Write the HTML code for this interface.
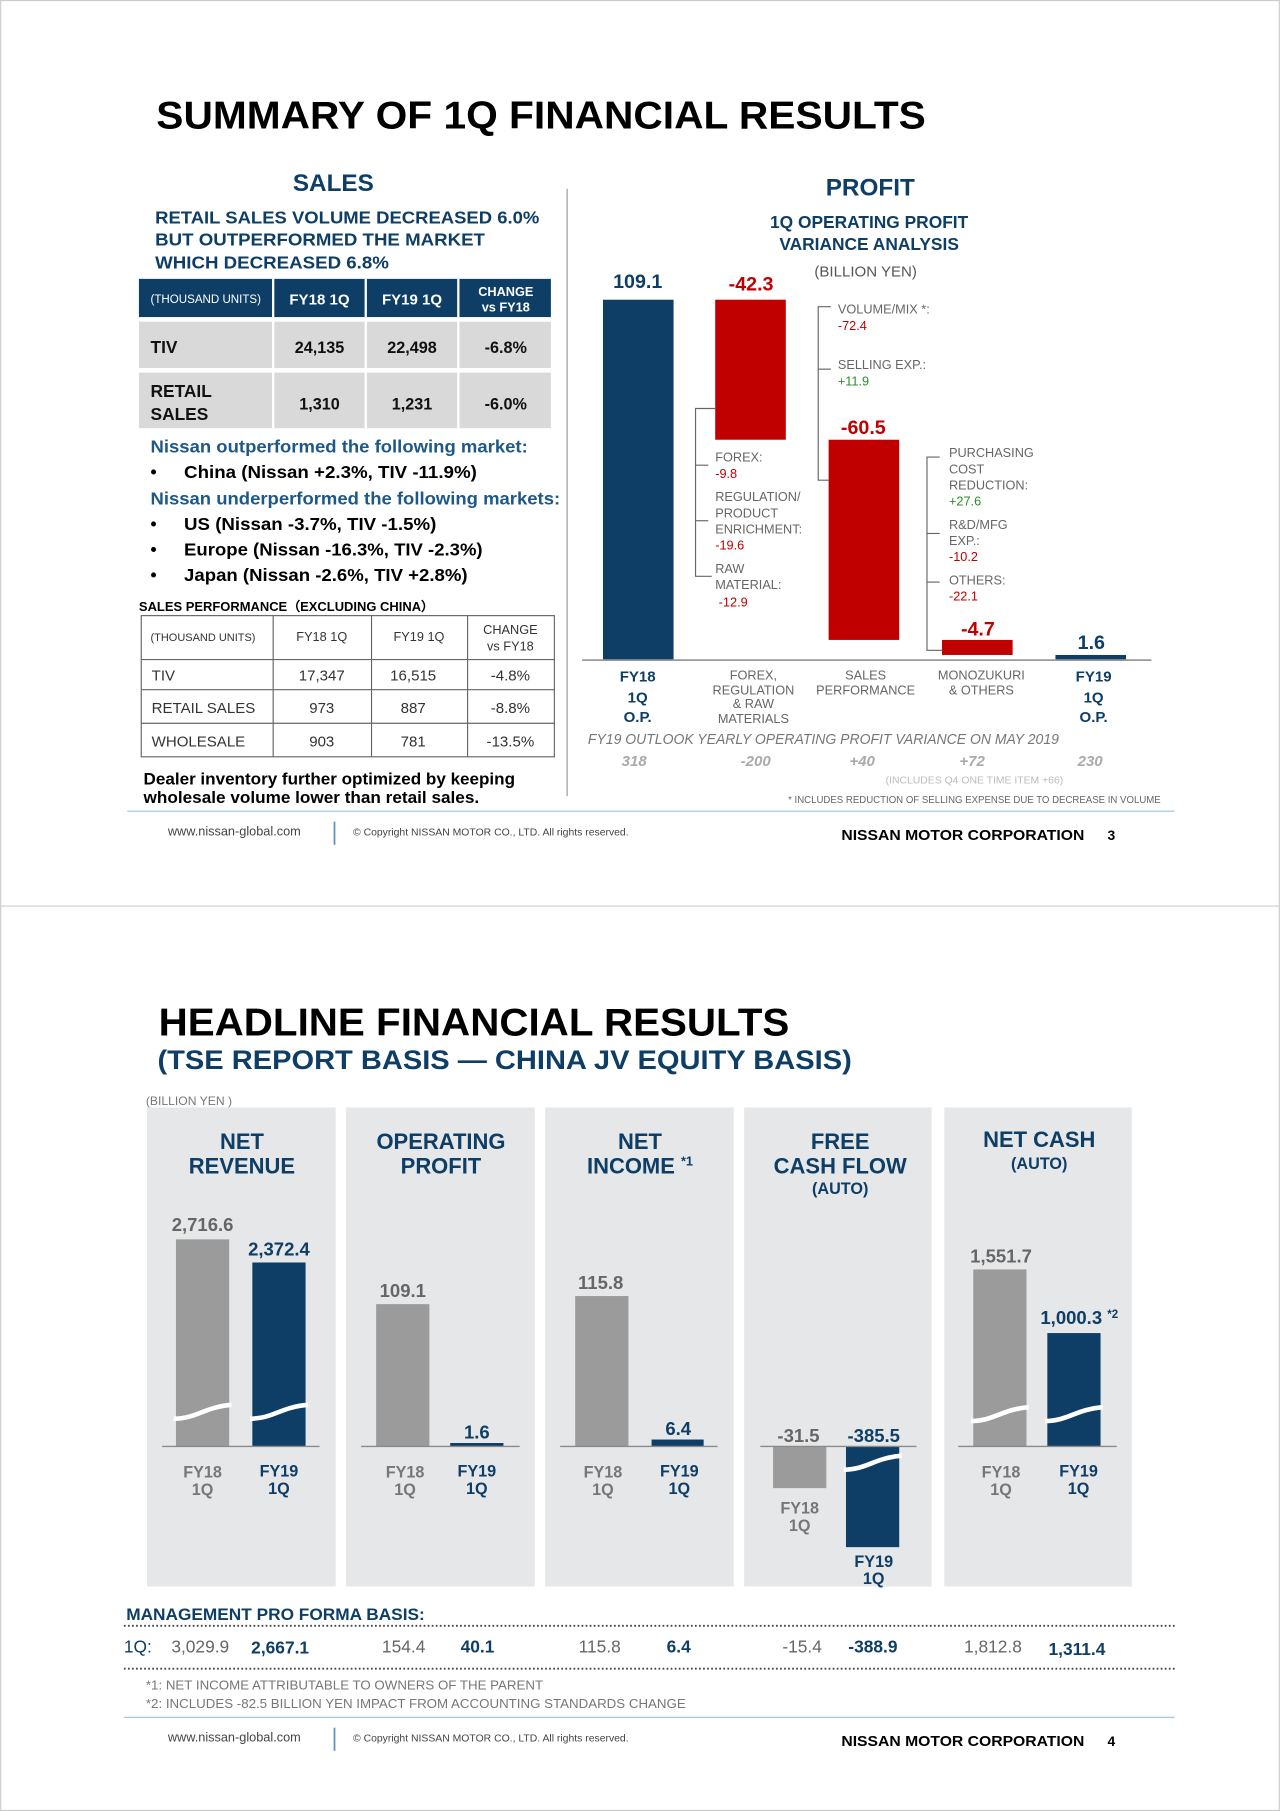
<!DOCTYPE html>
<html><head><meta charset="utf-8"><style>html,body{margin:0;padding:0;background:#fff}svg{display:block}</style></head>
<body>
<svg width="1280" height="1811" viewBox="0 0 1106 1565" xmlns="http://www.w3.org/2000/svg" font-family="Liberation Sans, sans-serif">
<rect x="0.5" y="0.5" width="1105" height="1564" fill="#fff" stroke="#ccc"/>
<line x1="0" y1="783" x2="1106" y2="783" stroke="#ccc"/>

<!-- SLIDE 1 -->
<text x="135" y="111" font-size="34" font-weight="bold" textLength="665" lengthAdjust="spacingAndGlyphs">SUMMARY OF 1Q FINANCIAL RESULTS</text>
<g fill="#0e3e66" font-weight="bold">
<text x="288" y="165" font-size="21" text-anchor="middle">SALES</text>
<text x="134" y="193" font-size="15" textLength="332" lengthAdjust="spacingAndGlyphs">RETAIL SALES VOLUME DECREASED 6.0%</text>
<text x="134" y="212" font-size="15" textLength="285" lengthAdjust="spacingAndGlyphs">BUT OUTPERFORMED THE MARKET</text>
<text x="134" y="232" font-size="15" textLength="202" lengthAdjust="spacingAndGlyphs">WHICH DECREASED 6.8%</text>
</g>
<rect x="120" y="241" width="356" height="33" fill="#0e3e66"/>
<g stroke="#fff" stroke-width="2"><line x1="236" y1="241" x2="236" y2="274"/><line x1="316" y1="241" x2="316" y2="274"/><line x1="396" y1="241" x2="396" y2="274"/></g>
<g fill="#fff" font-weight="bold">
<text x="130" y="262" font-size="10" font-weight="normal">(THOUSAND UNITS)</text>
<text x="276" y="263" font-size="13" text-anchor="middle">FY18 1Q</text>
<text x="356" y="263" font-size="13" text-anchor="middle">FY19 1Q</text>
<text x="437" y="256" font-size="11" text-anchor="middle">CHANGE</text>
<text x="437" y="269" font-size="11" text-anchor="middle">vs FY18</text>
</g>
<rect x="120" y="278" width="356" height="40" fill="#d9d9d9"/>
<rect x="120" y="322" width="356" height="48" fill="#d9d9d9"/>
<g stroke="#fff" stroke-width="2"><line x1="236" y1="276" x2="236" y2="370"/><line x1="316" y1="276" x2="316" y2="370"/><line x1="396" y1="276" x2="396" y2="370"/></g>
<g font-weight="bold" fill="#111">
<text x="130" y="305" font-size="15">TIV</text>
<text x="276" y="305" font-size="14" text-anchor="middle">24,135</text>
<text x="356" y="305" font-size="14" text-anchor="middle">22,498</text>
<text x="437" y="305" font-size="14" text-anchor="middle">-6.8%</text>
<text x="130" y="343" font-size="15">RETAIL</text>
<text x="130" y="363" font-size="15">SALES</text>
<text x="276" y="354" font-size="14" text-anchor="middle">1,310</text>
<text x="356" y="354" font-size="14" text-anchor="middle">1,231</text>
<text x="437" y="354" font-size="14" text-anchor="middle">-6.0%</text>
</g>
<g font-weight="bold" font-size="15">
<text x="130" y="391" fill="#1d5888" textLength="326" lengthAdjust="spacingAndGlyphs">Nissan outperformed the following market:</text>
<text x="130" y="413">•</text><text x="159" y="413" textLength="253" lengthAdjust="spacingAndGlyphs">China (Nissan +2.3%, TIV -11.9%)</text>
<text x="130" y="436" fill="#1d5888" textLength="354" lengthAdjust="spacingAndGlyphs">Nissan underperformed the following markets:</text>
<text x="130" y="458">•</text><text x="159" y="458" textLength="218" lengthAdjust="spacingAndGlyphs">US (Nissan -3.7%, TIV -1.5%)</text>
<text x="130" y="480">•</text><text x="159" y="480" textLength="258" lengthAdjust="spacingAndGlyphs">Europe (Nissan -16.3%, TIV -2.3%)</text>
<text x="130" y="502">•</text><text x="159" y="502" textLength="245" lengthAdjust="spacingAndGlyphs">Japan (Nissan -2.6%, TIV +2.8%)</text>
</g>
<text x="120" y="528" font-size="11" font-weight="bold" textLength="255" lengthAdjust="spacingAndGlyphs">SALES PERFORMANCE（EXCLUDING CHINA）</text>
<g stroke="#666" fill="none"><rect x="122" y="532" width="357" height="122"/>
<line x1="122" y1="570" x2="479" y2="570"/><line x1="122" y1="596" x2="479" y2="596"/><line x1="122" y1="625" x2="479" y2="625"/>
<line x1="236" y1="532" x2="236" y2="654"/><line x1="321" y1="532" x2="321" y2="654"/><line x1="404" y1="532" x2="404" y2="654"/></g>
<g font-size="13" fill="#333">
<text x="130" y="554" font-size="9.5">(THOUSAND UNITS)</text>
<text x="278" y="554" font-size="11" text-anchor="middle">FY18 1Q</text>
<text x="362" y="554" font-size="11" text-anchor="middle">FY19 1Q</text>
<text x="441" y="548" font-size="11" text-anchor="middle">CHANGE</text>
<text x="441" y="562" font-size="11" text-anchor="middle">vs FY18</text>
<text x="131" y="588">TIV</text><text x="278" y="588" text-anchor="middle">17,347</text><text x="357" y="588" text-anchor="middle">16,515</text><text x="441" y="588" text-anchor="middle">-4.8%</text>
<text x="131" y="616">RETAIL SALES</text><text x="278" y="616" text-anchor="middle">973</text><text x="357" y="616" text-anchor="middle">887</text><text x="441" y="616" text-anchor="middle">-8.8%</text>
<text x="131" y="645">WHOLESALE</text><text x="278" y="645" text-anchor="middle">903</text><text x="357" y="645" text-anchor="middle">781</text><text x="441" y="645" text-anchor="middle">-13.5%</text>
</g>
<text x="124" y="678" font-size="14" font-weight="bold" textLength="321" lengthAdjust="spacingAndGlyphs">Dealer inventory further optimized by keeping</text>
<text x="124" y="694" font-size="14" font-weight="bold" textLength="290" lengthAdjust="spacingAndGlyphs">wholesale volume lower than retail sales.</text>
<line x1="490" y1="163" x2="490" y2="688" stroke="#999"/>

<!-- profit -->
<g fill="#0e3e66" font-weight="bold" text-anchor="middle">
<text x="752" y="169" font-size="21">PROFIT</text>
<text x="751" y="197" font-size="15">1Q OPERATING PROFIT</text>
<text x="751" y="216" font-size="15">VARIANCE ANALYSIS</text>
</g>
<text x="748" y="239" font-size="13" fill="#555" text-anchor="middle">(BILLION YEN)</text>
<rect x="521" y="259" width="61" height="311" fill="#0e3e66"/>
<rect x="618" y="259" width="61" height="121" fill="#c00000"/>
<rect x="716" y="380" width="61" height="173" fill="#c00000"/>
<rect x="814" y="553" width="61" height="13" fill="#c00000"/>
<rect x="912" y="566" width="61" height="4" fill="#0e3e66"/>
<line x1="503" y1="570.5" x2="995" y2="570.5" stroke="#999" stroke-width="1.5"/>
<g font-weight="bold" font-size="17" text-anchor="middle">
<text x="551" y="249" fill="#0e3e66">109.1</text>
<text x="649" y="251" fill="#c00000">-42.3</text>
<text x="746" y="375" fill="#c00000">-60.5</text>
<text x="845" y="549" fill="#c00000">-4.7</text>
<text x="943" y="561" fill="#0e3e66">1.6</text>
</g>
<g stroke="#666" fill="none">
<path d="M618 353 H601 V498 H615"/><line x1="601" y1="402" x2="612" y2="402"/><line x1="601" y1="450" x2="612" y2="450"/>
<path d="M718 265 H707 V415 H716"/><line x1="707" y1="319" x2="718" y2="319"/>
<path d="M812 395 H801 V562 H814"/><line x1="801" y1="461" x2="812" y2="461"/><line x1="801" y1="503" x2="812" y2="503"/>
</g>
<g font-size="11" fill="#666">
<text x="618" y="399">FOREX:</text><text x="618" y="413" fill="#c00000">-9.8</text>
<text x="618" y="433">REGULATION/</text><text x="618" y="447">PRODUCT</text><text x="618" y="461">ENRICHMENT:</text><text x="618" y="475" fill="#c00000">-19.6</text>
<text x="618" y="495">RAW</text><text x="618" y="509">MATERIAL:</text><text x="621" y="524" fill="#c00000">-12.9</text>
<text x="724" y="271">VOLUME/MIX *:</text><text x="724" y="285" fill="#c00000">-72.4</text>
<text x="724" y="319">SELLING EXP.:</text><text x="724" y="333" fill="#2e8b2e">+11.9</text>
<text x="820" y="395">PURCHASING</text><text x="820" y="409">COST</text><text x="820" y="423">REDUCTION:</text><text x="820" y="437" fill="#2e8b2e">+27.6</text>
<text x="820" y="457">R&amp;D/MFG</text><text x="820" y="471">EXP.:</text><text x="820" y="485" fill="#c00000">-10.2</text>
<text x="820" y="505">OTHERS:</text><text x="820" y="519" fill="#c00000">-22.1</text>
</g>
<g font-size="13" font-weight="bold" fill="#0e3e66" text-anchor="middle">
<text x="551" y="589">FY18</text><text x="551" y="607">1Q</text><text x="551" y="624">O.P.</text>
<text x="945" y="589">FY19</text><text x="945" y="607">1Q</text><text x="945" y="624">O.P.</text>
</g>
<g font-size="11" fill="#666" text-anchor="middle">
<text x="651" y="587">FOREX,</text><text x="651" y="600">REGULATION</text><text x="651" y="612">&amp; RAW</text><text x="651" y="625">MATERIALS</text>
<text x="748" y="587">SALES</text><text x="748" y="600">PERFORMANCE</text>
<text x="848" y="587">MONOZUKURI</text><text x="848" y="600">&amp; OTHERS</text>
</g>
<text x="508" y="643" font-size="12.5" font-style="italic" fill="#777" textLength="407" lengthAdjust="spacingAndGlyphs">FY19 OUTLOOK YEARLY OPERATING PROFIT VARIANCE ON MAY 2019</text>
<g font-size="13" font-weight="bold" font-style="italic" fill="#aaa" text-anchor="middle">
<text x="548" y="662">318</text><text x="653" y="662">-200</text><text x="745" y="662">+40</text><text x="840" y="662">+72</text><text x="942" y="662">230</text>
</g>
<text x="842" y="677" font-size="9" fill="#bbb" text-anchor="middle">(INCLUDES Q4 ONE TIME ITEM +66)</text>
<text x="681" y="694" font-size="8.5" fill="#666" textLength="322" lengthAdjust="spacingAndGlyphs">* INCLUDES REDUCTION OF SELLING EXPENSE DUE TO DECREASE IN VOLUME</text>
<line x1="110" y1="701" x2="1015" y2="701" stroke="#9cc0dc"/>
<text x="145" y="722" font-size="11" fill="#444">www.nissan-global.com</text>
<line x1="289" y1="710" x2="289" y2="730" stroke="#5b8fc0" stroke-width="1.5"/>
<text x="305" y="722" font-size="9" fill="#444">© Copyright NISSAN MOTOR CO., LTD. All rights reserved.</text>
<text x="727" y="726" font-size="13" font-weight="bold" textLength="210" lengthAdjust="spacingAndGlyphs">NISSAN MOTOR CORPORATION</text>
<text x="957" y="726" font-size="12" font-weight="bold">3</text>

<!-- SLIDE 2 -->
<text x="137" y="895" font-size="34" font-weight="bold" textLength="545" lengthAdjust="spacingAndGlyphs">HEADLINE FINANCIAL RESULTS</text>
<text x="136" y="924" font-size="23" font-weight="bold" fill="#0e3e66" textLength="600" lengthAdjust="spacingAndGlyphs">(TSE REPORT BASIS — CHINA JV EQUITY BASIS)</text>
<text x="126" y="955" font-size="10.5" fill="#777">(BILLION YEN )</text>
<g fill="#e6e7e9">
<rect x="127" y="957" width="163" height="414"/><rect x="299" y="957" width="163" height="414"/><rect x="471" y="957" width="163" height="414"/><rect x="643" y="957" width="162" height="414"/><rect x="816" y="957" width="162" height="414"/>
</g>
<g fill="#0e3e66" font-weight="bold" font-size="19" text-anchor="middle">
<text x="209" y="993">NET</text><text x="209" y="1014">REVENUE</text>
<text x="381" y="993">OPERATING</text><text x="381" y="1014">PROFIT</text>
<text x="553" y="993">NET</text><text x="553" y="1014">INCOME <tspan font-size="11" dy="-7">*1</tspan></text>
<text x="726" y="993">FREE</text><text x="726" y="1014">CASH FLOW</text><text x="726" y="1032" font-size="14">(AUTO)</text>
<text x="898" y="991">NET CASH</text><text x="898" y="1010" font-size="14">(AUTO)</text>
</g>
<!-- bars -->
<g fill="#9b9b9b"><rect x="152" y="1071" width="46" height="179"/><rect x="325" y="1127" width="46" height="123"/><rect x="497" y="1120" width="46" height="130"/><rect x="668" y="1250" width="46" height="36"/><rect x="841" y="1097" width="46" height="153"/></g>
<g fill="#0e3e66"><rect x="218" y="1091" width="46" height="159"/><rect x="389" y="1247" width="46" height="3"/><rect x="563" y="1244" width="45" height="6"/><rect x="731" y="1250" width="46" height="87"/><rect x="905" y="1152" width="46" height="98"/></g>
<g stroke="#fff" stroke-width="4" fill="none">
<path d="M150 1226 C170 1226 176 1216 200 1214"/><path d="M216 1226 C236 1226 242 1216 266 1214"/>
<path d="M729 1270 C749 1270 755 1260 779 1258"/>
<path d="M839 1228 C859 1228 865 1218 889 1216"/><path d="M903 1228 C923 1228 929 1218 953 1216"/>
</g>
<g stroke="#8a8a8a" stroke-width="1.2"><line x1="140" y1="1250" x2="276" y2="1250"/><line x1="312" y1="1250" x2="449" y2="1250"/><line x1="484" y1="1250" x2="620" y2="1250"/><line x1="657" y1="1250" x2="792" y2="1250"/><line x1="828" y1="1250" x2="965" y2="1250"/></g>
<g font-weight="bold" font-size="16" text-anchor="middle">
<text x="175" y="1064" fill="#666">2,716.6</text><text x="241" y="1085" fill="#0e3e66">2,372.4</text>
<text x="348" y="1121" fill="#666">109.1</text><text x="412" y="1243" fill="#0e3e66">1.6</text>
<text x="519" y="1114" fill="#666">115.8</text><text x="586" y="1240" fill="#0e3e66">6.4</text>
<text x="690" y="1246" fill="#666">-31.5</text><text x="755" y="1246" fill="#0e3e66">-385.5</text>
<text x="865" y="1091" fill="#666">1,551.7</text>
</g>
<text x="899" y="1144" font-weight="bold" font-size="16" fill="#0e3e66">1,000.3 <tspan font-size="10" dy="-5">*2</tspan></text>
<g font-weight="bold" font-size="14" text-anchor="middle">
<g fill="#777"><text x="175" y="1277">FY18</text><text x="175" y="1292">1Q</text><text x="350" y="1277">FY18</text><text x="350" y="1292">1Q</text><text x="521" y="1277">FY18</text><text x="521" y="1292">1Q</text><text x="691" y="1308">FY18</text><text x="691" y="1323">1Q</text><text x="865" y="1277">FY18</text><text x="865" y="1292">1Q</text></g>
<g fill="#0e3e66"><text x="241" y="1276">FY19</text><text x="241" y="1291">1Q</text><text x="412" y="1276">FY19</text><text x="412" y="1291">1Q</text><text x="587" y="1276">FY19</text><text x="587" y="1291">1Q</text><text x="755" y="1354">FY19</text><text x="755" y="1369">1Q</text><text x="932" y="1276">FY19</text><text x="932" y="1291">1Q</text></g>
</g>
<text x="109" y="1400" font-size="14" font-weight="bold" fill="#0e3e66" textLength="258" lengthAdjust="spacingAndGlyphs">MANAGEMENT PRO FORMA BASIS:</text>
<g stroke="#444" stroke-width="1.6" stroke-dasharray="1.5 2"><line x1="107" y1="1405" x2="1015" y2="1405"/><line x1="107" y1="1442" x2="1015" y2="1442"/></g>
<g font-size="15">
<text x="107" y="1428" fill="#0e3e66">1Q:</text>
<text x="148" y="1428" fill="#666">3,029.9</text><text x="217" y="1429" fill="#0e3e66" font-weight="bold">2,667.1</text>
<text x="330" y="1428" fill="#666">154.4</text><text x="398" y="1428" fill="#0e3e66" font-weight="bold">40.1</text>
<text x="500" y="1428" fill="#666">115.8</text><text x="576" y="1428" fill="#0e3e66" font-weight="bold">6.4</text>
<text x="676" y="1428" fill="#666">-15.4</text><text x="733" y="1428" fill="#0e3e66" font-weight="bold">-388.9</text>
<text x="833" y="1428" fill="#666">1,812.8</text><text x="906" y="1430" fill="#0e3e66" font-weight="bold">1,311.4</text>
</g>
<text x="126" y="1460" font-size="11.5" fill="#777">*1: NET INCOME ATTRIBUTABLE TO OWNERS OF THE PARENT</text>
<text x="126" y="1476" font-size="11.5" fill="#777">*2: INCLUDES -82.5 BILLION YEN IMPACT FROM ACCOUNTING STANDARDS CHANGE</text>
<line x1="107" y1="1484" x2="1015" y2="1484" stroke="#9cc0dc"/>
<text x="145" y="1505" font-size="11" fill="#444">www.nissan-global.com</text>
<line x1="289" y1="1493" x2="289" y2="1513" stroke="#5b8fc0" stroke-width="1.5"/>
<text x="305" y="1505" font-size="9" fill="#444">© Copyright NISSAN MOTOR CO., LTD. All rights reserved.</text>
<text x="727" y="1509" font-size="13" font-weight="bold" textLength="210" lengthAdjust="spacingAndGlyphs">NISSAN MOTOR CORPORATION</text>
<text x="957" y="1509" font-size="12" font-weight="bold">4</text>
</svg>
</body></html>
